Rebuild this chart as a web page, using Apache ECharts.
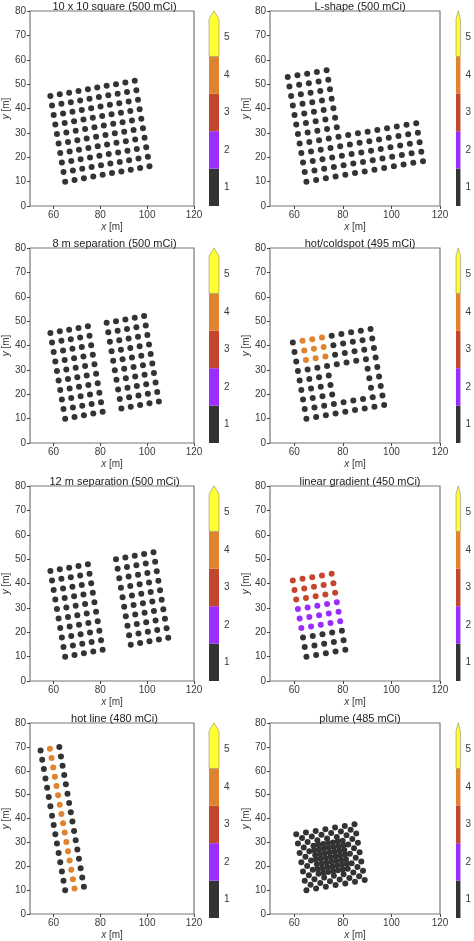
<!DOCTYPE html>
<html>
<head>
<meta charset="utf-8">
<script src="https://cdn.jsdelivr.net/npm/echarts@6/dist/echarts.min.js"></script>
<style>
  html, body { margin: 0; padding: 0; background: #fff; }
  #chart { width: 474px; height: 941px; }
</style>
</head>
<body>
<div id="chart"></div>
<script>
// panel titles
const titles = [
    '10 x 10 square (500 mCi)', 'L-shape (500 mCi)',
    '8 m separation (500 mCi)', 'hot/coldspot (495 mCi)',
    '12 m separation (500 mCi)', 'linear gradient (450 mCi)',
    'hot line (480 mCi)', 'plume (485 mCi)'
];

// colour classes 1..5
const classColors = ['#333333', '#9b2eff', '#c4472d', '#e0832f', '#ffff33'];
const classTicks = [1, 2, 3, 4, 5];
const xTicks = [60, 80, 100, 120];

// survey grid rows (bottom row first)
const squareRows = [
    [[65,10],[69,10.7],[73,11.4],[77,12.1],[81,12.8],[85,13.5],[89,14.2],[93,14.9],[97,15.6],[101,16.3]],
    [[64.3,13.9],[68.3,14.6],[72.3,15.3],[76.3,16],[80.3,16.7],[84.3,17.4],[88.3,18.1],[92.3,18.8],[96.3,19.5],[100.3,20.2]],
    [[63.6,17.8],[67.6,18.5],[71.6,19.2],[75.6,19.9],[79.6,20.6],[83.6,21.3],[87.6,22],[91.6,22.7],[95.6,23.4],[99.6,24.1]],
    [[62.9,21.7],[66.9,22.4],[70.9,23.1],[74.9,23.8],[78.9,24.5],[82.9,25.2],[86.9,25.9],[90.9,26.6],[94.9,27.3],[98.9,28]],
    [[62.2,25.6],[66.2,26.3],[70.2,27],[74.2,27.7],[78.2,28.4],[82.2,29.1],[86.2,29.8],[90.2,30.5],[94.2,31.2],[98.2,31.9]],
    [[61.5,29.5],[65.5,30.2],[69.5,30.9],[73.5,31.6],[77.5,32.3],[81.5,33],[85.5,33.7],[89.5,34.4],[93.5,35.1],[97.5,35.8]],
    [[60.8,33.4],[64.8,34.1],[68.8,34.8],[72.8,35.5],[76.8,36.2],[80.8,36.9],[84.8,37.6],[88.8,38.3],[92.8,39],[96.8,39.7]],
    [[60.1,37.3],[64.1,38],[68.1,38.7],[72.1,39.4],[76.1,40.1],[80.1,40.8],[84.1,41.5],[88.1,42.2],[92.1,42.9],[96.1,43.6]],
    [[59.4,41.2],[63.4,41.9],[67.4,42.6],[71.4,43.3],[75.4,44],[79.4,44.7],[83.4,45.4],[87.4,46.1],[91.4,46.8],[95.4,47.5]],
    [[58.7,45.1],[62.7,45.8],[66.7,46.5],[70.7,47.2],[74.7,47.9],[78.7,48.6],[82.7,49.3],[86.7,50],[90.7,50.7],[94.7,51.4]]
];
// rows above the square (hot line, L-shape arm)
const upperRows = [
    [[58,49],[62,49.7],[66,50.4],[70,51.1],[74,51.8]],
    [[57.3,52.9],[61.3,53.6],[65.3,54.3],[69.3,55],[73.3,55.7]],
    [[56.6,56.8],[60.6,57.5],[64.6,58.2]],
    [[55.9,60.7],[59.9,61.4],[63.9,62.1]],
    [[55.2,64.6],[59.2,65.3],[63.2,66]],
    [[54.5,68.5],[58.5,69.2],[62.5,69.9]]
];
// L-shape foot, extra columns of the bottom five rows
const lFoot = [
    [[105,17],[109,17.7],[113,18.4]],
    [[104.3,20.9],[108.3,21.6],[112.3,22.3]],
    [[103.6,24.8],[107.6,25.5],[111.6,26.2]],
    [[102.9,28.7],[106.9,29.4],[110.9,30.1]],
    [[102.2,32.6],[106.2,33.3],[110.2,34]]
];
const sep8Right = [
    [[89,14.2],[93,14.9],[97,15.6],[101,16.3],[105,17]],
    [[88.3,18.1],[92.3,18.8],[96.3,19.5],[100.3,20.2],[104.3,20.9]],
    [[87.6,22],[91.6,22.7],[95.6,23.4],[99.6,24.1],[103.6,24.8]],
    [[86.9,25.9],[90.9,26.6],[94.9,27.3],[98.9,28],[102.9,28.7]],
    [[86.2,29.8],[90.2,30.5],[94.2,31.2],[98.2,31.9],[102.2,32.6]],
    [[85.5,33.7],[89.5,34.4],[93.5,35.1],[97.5,35.8],[101.5,36.5]],
    [[84.8,37.6],[88.8,38.3],[92.8,39],[96.8,39.7],[100.8,40.4]],
    [[84.1,41.5],[88.1,42.2],[92.1,42.9],[96.1,43.6],[100.1,44.3]],
    [[83.4,45.4],[87.4,46.1],[91.4,46.8],[95.4,47.5],[99.4,48.2]],
    [[82.7,49.3],[86.7,50],[90.7,50.7],[94.7,51.4],[98.7,52.1]]
];
const sep12Right = [
    [[93,14.9],[97,15.6],[101,16.3],[105,17],[109,17.7]],
    [[92.3,18.8],[96.3,19.5],[100.3,20.2],[104.3,20.9],[108.3,21.6]],
    [[91.6,22.7],[95.6,23.4],[99.6,24.1],[103.6,24.8],[107.6,25.5]],
    [[90.9,26.6],[94.9,27.3],[98.9,28],[102.9,28.7],[106.9,29.4]],
    [[90.2,30.5],[94.2,31.2],[98.2,31.9],[102.2,32.6],[106.2,33.3]],
    [[89.5,34.4],[93.5,35.1],[97.5,35.8],[101.5,36.5],[105.5,37.2]],
    [[88.8,38.3],[92.8,39],[96.8,39.7],[100.8,40.4],[104.8,41.1]],
    [[88.1,42.2],[92.1,42.9],[96.1,43.6],[100.1,44.3],[104.1,45]],
    [[87.4,46.1],[91.4,46.8],[95.4,47.5],[99.4,48.2],[103.4,48.9]],
    [[86.7,50],[90.7,50.7],[94.7,51.4],[98.7,52.1],[102.7,52.8]]
];
// hot/coldspot classes, 9 x 9 (0 = no point)
const hotColdClasses = [
    [1,1,1,1,1,1,1,1,1],
    [1,1,1,1,1,1,1,1,1],
    [1,1,1,1,0,0,0,1,1],
    [1,1,1,1,0,0,0,1,1],
    [1,1,1,1,0,0,0,1,1],
    [1,1,1,1,1,1,1,1,1],
    [1,4,4,4,1,1,1,1,1],
    [1,4,4,4,1,1,1,1,1],
    [1,4,4,4,1,1,1,1,1]
];
// linear gradient class per row (bottom first)
const gradientRowClasses = [1, 1, 1, 2, 2, 2, 3, 3, 3];
// hot line class per column
const hotLineColClasses = [1, 4, 1];
const plumePoints = [
    [65,10],[69,10.7],[73,11.4],[77,12.1],[81,12.8],[85,13.5],[89,14.2],
    [66.7,12.3],[70.7,13],[74.7,13.7],[78.7,14.4],[82.7,15.1],[86.7,15.8],
    [64.3,13.9],[68.3,14.6],[72.3,15.3],[76.3,16],[80.3,16.7],[84.3,17.4],[88.3,18.1],
    [66,16.2],[70,16.9],[72,17.3],[74,17.6],[76,18],[78,18.3],[80,18.7],[82,19],[86,19.7],
    [63.6,17.8],[67.6,18.5],[69.6,18.9],[71.6,19.2],[73.6,19.6],[75.6,19.9],[77.6,20.3],[79.6,20.6],[81.6,21],[83.6,21.3],[87.6,22],
    [65.3,20.1],[69.3,20.8],[71.3,21.2],[73.3,21.5],[75.3,21.9],[77.3,22.2],[79.3,22.6],[81.3,22.9],[85.3,23.6],
    [62.9,21.7],[66.9,22.4],[68.9,22.8],[70.9,23.1],[72.9,23.5],[74.9,23.8],[76.9,24.2],[78.9,24.5],[80.9,24.9],[82.9,25.2],[86.9,25.9],
    [64.6,24],[68.6,24.7],[70.6,25.1],[72.6,25.4],[74.6,25.8],[76.6,26.1],[78.6,26.5],[80.6,26.8],[84.6,27.5],
    [62.2,25.6],[66.2,26.3],[68.2,26.7],[70.2,27],[72.2,27.4],[74.2,27.7],[76.2,28.1],[78.2,28.4],[80.2,28.8],[82.2,29.1],[86.2,29.8],
    [63.9,27.9],[67.9,28.6],[69.9,29],[71.9,29.3],[73.9,29.7],[75.9,30],[77.9,30.4],[79.9,30.7],[83.9,31.4],
    [61.5,29.5],[65.5,30.2],[69.5,30.9],[73.5,31.6],[77.5,32.3],[81.5,33],[85.5,33.7],
    [63.2,31.8],[67.2,32.5],[71.2,33.2],[75.2,33.9],[79.2,34.6],[83.2,35.3],
    [60.8,33.4],[64.8,34.1],[68.8,34.8],[72.8,35.5],[76.8,36.2],[80.8,36.9],[84.8,37.6]
];

// build point lists [x, y, class]
function withClass(rows, cls) {
    const out = [];
    rows.forEach(r => r.forEach(p => out.push([p[0], p[1], cls])));
    return out;
}
const firstCols = (rows, n) => rows.map(r => r.slice(0, n));

const panelData = [];
panelData.push(withClass(squareRows, 1));
panelData.push(withClass(squareRows.slice(0, 5).map((r, j) => r.concat(lFoot[j]))
    .concat(firstCols(squareRows.slice(5), 5)).concat(upperRows.slice(0, 2)), 1));
panelData.push(withClass(firstCols(squareRows, 5).concat(sep8Right), 1));
const hotCold = [];
hotColdClasses.forEach((row, j) => row.forEach((c, i) => {
    if (c) hotCold.push([squareRows[j][i][0], squareRows[j][i][1], c]);
}));
panelData.push(hotCold);
panelData.push(withClass(firstCols(squareRows, 5).concat(sep12Right), 1));
const gradient = [];
gradientRowClasses.forEach((c, j) => squareRows[j].slice(0, 5).forEach(p => gradient.push([p[0], p[1], c])));
panelData.push(gradient);
const hotLine = [];
firstCols(squareRows, 3).concat(firstCols(upperRows, 3)).forEach(r =>
    r.forEach((p, i) => hotLine.push([p[0], p[1], hotLineColClasses[i]])));
panelData.push(hotLine);
panelData.push(withClass([plumePoints], 1));

const chart = echarts.init(document.getElementById('chart'));
const tops = [11, 248, 486, 723];
const plotH = 195;
const font = 'Liberation Sans, Arial, sans-serif';
const txt = '#3a3a3a';

const grid = [], xAxis = [], yAxis = [], series = [], title = [];
panelData.forEach((pts, k) => {
    const row = Math.floor(k / 2), col = k % 2;
    const left = col ? 270 : 25;
    const width = col ? 170 : 169;
    const top = tops[row];
    // main plot
    grid.push({ left: left, top: top, width: width, height: plotH,
        show: true, borderColor: '#777', borderWidth: 1.2, backgroundColor: '#fff' });
    xAxis.push({ gridIndex: 2 * k, type: 'value', min: 50, max: 120,
        axisLine: { show: false }, splitLine: { show: false },
        axisTick: { customValues: xTicks, length: 3, lineStyle: { color: '#444' } },
        axisLabel: { customValues: xTicks, fontSize: 10, color: txt, margin: 4, fontFamily: font },
        name: '{i|x} [m]', nameLocation: 'middle', nameGap: 16,
        nameTextStyle: { fontSize: 10, color: txt, fontFamily: font,
            rich: { i: { fontStyle: 'italic', fontSize: 10, color: txt, fontFamily: font } } } });
    yAxis.push({ gridIndex: 2 * k, type: 'value', min: 0, max: 80, interval: 10,
        axisLine: { show: false }, splitLine: { show: false },
        axisTick: { length: 3, lineStyle: { color: '#444' } },
        axisLabel: { fontSize: 10, color: txt, margin: 4, fontFamily: font },
        name: '{i|y} [m]', nameLocation: 'middle', nameGap: 14,
        nameTextStyle: { fontSize: 10, color: txt, fontFamily: font,
            rich: { i: { fontStyle: 'italic', fontSize: 10, color: txt, fontFamily: font } } } });
    series.push({ type: 'scatter', xAxisIndex: 2 * k, yAxisIndex: 2 * k,
        data: pts, symbolSize: 6,
        itemStyle: { color: p => classColors[p.value[2] - 1], opacity: 1 } });
    title.push({ text: titles[k], left: left + width / 2, top: top - 15, textAlign: 'center',
        textStyle: { fontSize: 11, fontWeight: 'normal', color: '#222', fontFamily: font } });

    // colour bar
    grid.push({ left: col ? 456 : 209, top: top + 8, width: 10, height: plotH - 8 });
    xAxis.push({ gridIndex: 2 * k + 1, type: 'value', min: 0, max: 1, show: false });
    yAxis.push({ gridIndex: 2 * k + 1, type: 'value', min: 0.5, max: 5.5, position: 'right',
        axisLine: { show: false }, splitLine: { show: false },
        axisTick: { customValues: classTicks, length: 3, lineStyle: { color: '#444' } },
        axisLabel: { customValues: classTicks, fontSize: 10, color: txt, margin: 5, fontFamily: font } });
    series.push({ type: 'custom', xAxisIndex: 2 * k + 1, yAxisIndex: 2 * k + 1,
        data: classTicks.map(c => [c - 0.5, c + 0.5, c]), clip: false, silent: true,
        renderItem: (params, api) => {
            const lo = api.value(0), hi = api.value(1), c = api.value(2);
            const pts = [api.coord([0, lo]), api.coord([1, lo]), api.coord([1, hi])];
            if (c === 5) pts.push(api.coord([0.5, hi + 0.22]));
            pts.push(api.coord([0, hi]));
            return { type: 'polygon', shape: { points: pts },
                style: { fill: classColors[c - 1], stroke: c === 5 ? '#777' : null, lineWidth: 0.5 } };
        } });
});

chart.setOption({ animation: false, title, grid, xAxis, yAxis, series });
</script>
</body>
</html>
